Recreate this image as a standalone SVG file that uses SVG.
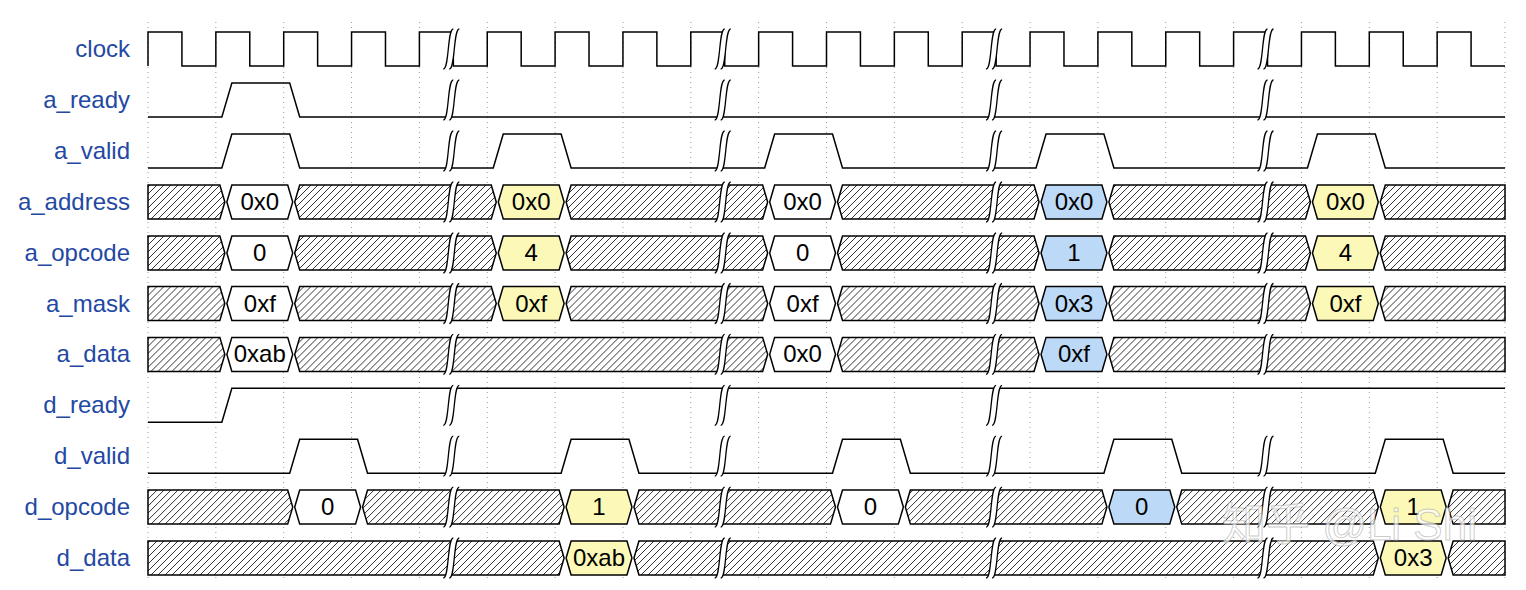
<svg xmlns="http://www.w3.org/2000/svg" xmlns:xlink="http://www.w3.org/1999/xlink" width="1526" height="590" viewBox="0 0 1526 590">
<style>
.lbl{font-family:"Liberation Sans",Arial,sans-serif;font-size:24px;fill:#2348a3;text-anchor:end}
.val{font-family:"Liberation Sans",Arial,sans-serif;font-size:24px;fill:#000;text-anchor:middle}
.w{fill:none;stroke:#000;stroke-width:1.5}
.h{fill:url(#hatch);stroke:#000;stroke-width:1.5}
.v{fill:#fff;stroke:#000;stroke-width:1.5}
.y{fill:#fcf9b8;stroke:#000;stroke-width:1.5}
.b{fill:#bcdaf7;stroke:#000;stroke-width:1.5}
.grid{stroke:#999;stroke-width:1;stroke-dasharray:1,4}
</style>
<defs>
<pattern id="hatch" patternUnits="userSpaceOnUse" width="7" height="7">
<rect width="7" height="7" fill="#fff"/>
<path d="M-1,1 l2,-2 M0,7 l7,-7 M6,8 l2,-2" stroke="#000" stroke-width="0.8"/>
</pattern>
<g id="brk">
<path d="M-10,20 C-4,20 -6,-20 0,-20 H6 C0,-20 2,20 -4,20 Z" fill="#fff"/>
<path d="M-10,20 C-4,20 -6,-20 0,-20 M-4,20 C2,20 0,-20 6,-20" fill="none" stroke="#000" stroke-width="1.3"/>
</g>
</defs>
<rect width="1526" height="590" fill="#fff"/>
<g id="grid">
<path class="grid" d="M148,22V580M215.85,22V580M283.7,22V580M351.55,22V580M419.4,22V580M487.25,22V580M555.1,22V580M622.95,22V580M690.8,22V580M758.65,22V580M826.5,22V580M894.35,22V580M962.2,22V580M1030.05,22V580M1097.9,22V580M1165.75,22V580M1233.6,22V580M1301.45,22V580M1369.3,22V580M1437.15,22V580M1505,22V580"/>
</g>
<g id="labels">
<text class="lbl" x="130" y="57">clock</text>
<text class="lbl" x="130" y="108">a_ready</text>
<text class="lbl" x="130" y="159">a_valid</text>
<text class="lbl" x="130" y="210">a_address</text>
<text class="lbl" x="130" y="261">a_opcode</text>
<text class="lbl" x="130" y="312">a_mask</text>
<text class="lbl" x="130" y="362">a_data</text>
<text class="lbl" x="130" y="413">d_ready</text>
<text class="lbl" x="130" y="464">d_valid</text>
<text class="lbl" x="130" y="515">d_opcode</text>
<text class="lbl" x="130" y="566">d_data</text>
</g>
<g id="clock" transform="translate(0,49)">
<path class="w" d="M148 17 V-17 H181.93 V17 H215.85 V-17 H249.78 V17 H283.7 V-17 H317.63 V17 H351.55 V-17 H385.48 V17 H419.4 V-17 H453.33 V17 H487.25 V-17 H521.18 V17 H555.1 V-17 H589.03 V17 H622.95 V-17 H656.88 V17 H690.8 V-17 H724.73 V17 H758.65 V-17 H792.58 V17 H826.5 V-17 H860.43 V17 H894.35 V-17 H928.28 V17 H962.2 V-17 H996.13 V17 H1030.05 V-17 H1063.98 V17 H1097.9 V-17 H1131.83 V17 H1165.75 V-17 H1199.68 V17 H1233.6 V-17 H1267.53 V17 H1301.45 V-17 H1335.38 V17 H1369.3 V-17 H1403.23 V17 H1437.15 V-17 H1471.08 V17 H1505"/>
<use href="#brk" x="453.3"/><use href="#brk" x="724.7"/><use href="#brk" x="996.1"/><use href="#brk" x="1267.5"/>
</g>
<g id="a_ready" transform="translate(0,100)">
<path class="w" d="M148 17 H221.85 L231.85 -17 H289.7 L299.7 17 H1505"/>
<use href="#brk" x="453.3"/><use href="#brk" x="724.7"/><use href="#brk" x="996.1"/><use href="#brk" x="1267.5"/>
</g>
<g id="a_valid" transform="translate(0,151)">
<path class="w" d="M148 17 H221.85 L231.85 -17 H289.7 L299.7 17 H493.25 L503.25 -17 H561.1 L571.1 17 H764.65 L774.65 -17 H832.5 L842.5 17 H1036.05 L1046.05 -17 H1103.9 L1113.9 17 H1307.45 L1317.45 -17 H1375.3 L1385.3 17 H1505"/>
<use href="#brk" x="453.3"/><use href="#brk" x="724.7"/><use href="#brk" x="996.1"/><use href="#brk" x="1267.5"/>
</g>
<defs>
<g id="ahatch">
<polygon class="h" points="148,-17 219.85,-17 224.85,0 219.85,17 148,17"/>
<polygon class="h" points="299.7,-17 491.25,-17 496.25,0 491.25,17 299.7,17 294.7,0"/>
<polygon class="h" points="571.1,-17 762.65,-17 767.65,0 762.65,17 571.1,17 566.1,0"/>
<polygon class="h" points="842.5,-17 1034.05,-17 1039.05,0 1034.05,17 842.5,17 837.5,0"/>
<polygon class="h" points="1113.9,-17 1305.45,-17 1310.45,0 1305.45,17 1113.9,17 1108.9,0"/>
<polygon class="h" points="1385.3,-17 1505,-17 1505,17 1385.3,17 1380.3,0"/>
</g>
<polygon id="a1" points="231.85,-17 287.7,-17 292.7,0 287.7,17 231.85,17 226.85,0"/>
<polygon id="a5" points="503.25,-17 559.1,-17 564.1,0 559.1,17 503.25,17 498.25,0"/>
<polygon id="a9" points="774.65,-17 830.5,-17 835.5,0 830.5,17 774.65,17 769.65,0"/>
<polygon id="a13" points="1046.05,-17 1101.9,-17 1106.9,0 1101.9,17 1046.05,17 1041.05,0"/>
<polygon id="a17" points="1317.45,-17 1373.3,-17 1378.3,0 1373.3,17 1317.45,17 1312.45,0"/>
<polygon id="d2" points="299.7,-17 355.55,-17 360.55,0 355.55,17 299.7,17 294.7,0"/>
<polygon id="d6" points="571.1,-17 626.95,-17 631.95,0 626.95,17 571.1,17 566.1,0"/>
<polygon id="d10" points="842.5,-17 898.35,-17 903.35,0 898.35,17 842.5,17 837.5,0"/>
<polygon id="d14" points="1113.9,-17 1169.75,-17 1174.75,0 1169.75,17 1113.9,17 1108.9,0"/>
<polygon id="d18" points="1385.3,-17 1441.15,-17 1446.15,0 1441.15,17 1385.3,17 1380.3,0"/>
<g id="brk4"><use href="#brk" x="453.3"/><use href="#brk" x="724.7"/><use href="#brk" x="996.1"/><use href="#brk" x="1267.5"/></g>
</defs>
<g id="a_address" transform="translate(0,202)">
<use href="#ahatch"/>
<use href="#a1" class="v"/><use href="#a5" class="y"/><use href="#a9" class="v"/><use href="#a13" class="b"/><use href="#a17" class="y"/>
<text class="val" x="259.8" y="8">0x0</text><text class="val" x="531.2" y="8">0x0</text><text class="val" x="802.6" y="8">0x0</text><text class="val" x="1074" y="8">0x0</text><text class="val" x="1345.4" y="8">0x0</text>
<use href="#brk4"/>
</g>
<g id="a_opcode" transform="translate(0,253)">
<use href="#ahatch"/>
<use href="#a1" class="v"/><use href="#a5" class="y"/><use href="#a9" class="v"/><use href="#a13" class="b"/><use href="#a17" class="y"/>
<text class="val" x="259.8" y="8">0</text><text class="val" x="531.2" y="8">4</text><text class="val" x="802.6" y="8">0</text><text class="val" x="1074" y="8">1</text><text class="val" x="1345.4" y="8">4</text>
<use href="#brk4"/>
</g>
<g id="a_mask" transform="translate(0,303.5)">
<use href="#ahatch"/>
<use href="#a1" class="v"/><use href="#a5" class="y"/><use href="#a9" class="v"/><use href="#a13" class="b"/><use href="#a17" class="y"/>
<text class="val" x="259.8" y="8">0xf</text><text class="val" x="531.2" y="8">0xf</text><text class="val" x="802.6" y="8">0xf</text><text class="val" x="1074" y="8">0x3</text><text class="val" x="1345.4" y="8">0xf</text>
<use href="#brk4"/>
</g>
<g id="a_data" transform="translate(0,354.4)">
<polygon class="h" points="148,-17 219.85,-17 224.85,0 219.85,17 148,17"/>
<polygon class="h" points="299.7,-17 762.65,-17 767.65,0 762.65,17 299.7,17 294.7,0"/>
<polygon class="h" points="842.5,-17 1034.05,-17 1039.05,0 1034.05,17 842.5,17 837.5,0"/>
<polygon class="h" points="1113.9,-17 1505,-17 1505,17 1113.9,17 1108.9,0"/>
<use href="#a1" class="v"/><use href="#a9" class="v"/><use href="#a13" class="b"/>
<text class="val" x="259.8" y="8">0xab</text><text class="val" x="802.6" y="8">0x0</text><text class="val" x="1074" y="8">0xf</text>
<use href="#brk4"/>
</g>
<g id="d_ready" transform="translate(0,405.3)">
<path class="w" d="M148 17 H221.85 L231.85 -17 H1505"/>
<use href="#brk" x="453.3"/><use href="#brk" x="724.7"/><use href="#brk" x="996.1"/>
</g>
<g id="d_valid" transform="translate(0,456.2)">
<path class="w" d="M148 17 H289.7 L299.7 -17 H357.55 L367.55 17 H561.1 L571.1 -17 H628.95 L638.95 17 H832.5 L842.5 -17 H900.35 L910.35 17 H1103.9 L1113.9 -17 H1171.75 L1181.75 17 H1375.3 L1385.3 -17 H1443.15 L1453.15 17 H1505"/>
<use href="#brk4"/>
</g>
<g id="d_opcode" transform="translate(0,507.1)">
<polygon class="h" points="148,-17 287.7,-17 292.7,0 287.7,17 148,17"/>
<polygon class="h" points="367.55,-17 559.1,-17 564.1,0 559.1,17 367.55,17 362.55,0"/>
<polygon class="h" points="638.95,-17 830.5,-17 835.5,0 830.5,17 638.95,17 633.95,0"/>
<polygon class="h" points="910.35,-17 1101.9,-17 1106.9,0 1101.9,17 910.35,17 905.35,0"/>
<polygon class="h" points="1181.75,-17 1373.3,-17 1378.3,0 1373.3,17 1181.75,17 1176.75,0"/>
<polygon class="h" points="1453.15,-17 1505,-17 1505,17 1453.15,17 1448.15,0"/>
<use href="#d2" class="v"/><use href="#d6" class="y"/><use href="#d10" class="v"/><use href="#d14" class="b"/><use href="#d18" class="y"/>
<text class="val" x="327.6" y="8">0</text><text class="val" x="599" y="8">1</text><text class="val" x="870.4" y="8">0</text><text class="val" x="1141.8" y="8">0</text><text class="val" x="1413.2" y="8">1</text>
<use href="#brk4"/>
</g>
<g id="d_data" transform="translate(0,558)">
<polygon class="h" points="148,-17 559.1,-17 564.1,0 559.1,17 148,17"/>
<polygon class="h" points="638.95,-17 1373.3,-17 1378.3,0 1373.3,17 638.95,17 633.95,0"/>
<polygon class="h" points="1453.15,-17 1505,-17 1505,17 1453.15,17 1448.15,0"/>
<use href="#d6" class="y"/><use href="#d18" class="y"/>
<text class="val" x="599" y="8">0xab</text><text class="val" x="1413.2" y="8">0x3</text>
<use href="#brk4"/>
</g>
<text x="1222" y="540" font-family="'Liberation Sans','Noto Sans CJK SC',sans-serif" font-size="44" fill="#fff" fill-opacity="0.7" stroke="#aaa" stroke-opacity="0.6" stroke-width="1">知乎 @Li Shi</text>
</svg>
